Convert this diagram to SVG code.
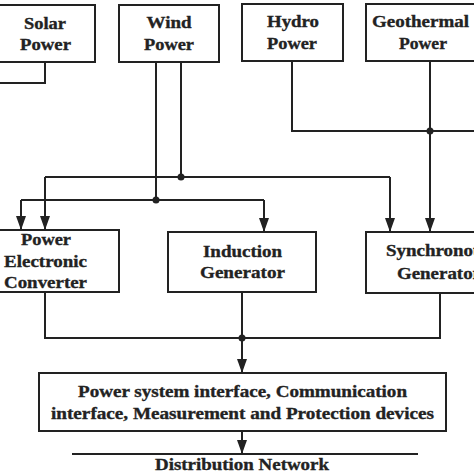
<svg xmlns="http://www.w3.org/2000/svg" width="474" height="474" viewBox="0 0 474 474">
<style>
.box{fill:#fff;stroke:#222;stroke-width:2}
.ln{fill:none;stroke:#222;stroke-width:2}
.t{font-family:"Liberation Serif","Times New Roman",serif;font-weight:bold;font-size:17.5px;fill:#222;stroke:#222;stroke-width:0.35;text-anchor:middle}
.dot{fill:#222}
</style>
<defs>
<marker id="ah" viewBox="0 0 14 10" refX="14" refY="5" markerWidth="14" markerHeight="10" markerUnits="userSpaceOnUse" orient="auto">
<path d="M0,0 L14,5 L0,10 z" fill="#222"/>
</marker>
</defs>
<rect width="474" height="474" fill="#fff"/>
<g id="connectors">
<polyline class="ln" points="45,62 45,83 -5,83"/>
<line class="ln" x1="156" y1="62" x2="156" y2="200"/>
<line class="ln" x1="181" y1="62" x2="181" y2="177"/>
<polyline class="ln" points="45,177 390,177"/>
<polyline class="ln" points="21,200 264,200"/>
<line class="ln" x1="45" y1="177" x2="45" y2="230" marker-end="url(#ah)"/>
<line class="ln" x1="21" y1="200" x2="21" y2="230" marker-end="url(#ah)"/>
<line class="ln" x1="264" y1="200" x2="264" y2="232" marker-end="url(#ah)"/>
<line class="ln" x1="390" y1="177" x2="390" y2="232" marker-end="url(#ah)"/>
<polyline class="ln" points="292,61 292,131 480,131"/>
<line class="ln" x1="430" y1="61" x2="430" y2="232" marker-end="url(#ah)"/>
<polyline class="ln" points="45,292 45,338 440,338 440,293"/>
<line class="ln" x1="242" y1="292" x2="242" y2="373" marker-end="url(#ah)"/>
<line class="ln" x1="242" y1="431" x2="242" y2="454" marker-end="url(#ah)"/>
<line class="ln" x1="72" y1="454" x2="418" y2="454"/>
<circle class="dot" cx="181" cy="177" r="3.5"/>
<circle class="dot" cx="156" cy="200" r="3.5"/>
<circle class="dot" cx="430" cy="131" r="3.5"/>
<circle class="dot" cx="242" cy="338" r="3.5"/>
</g>
<g id="solar">
<rect class="box" x="-10" y="5" width="105" height="57"/>
<text class="t" x="45" y="29" textLength="42" lengthAdjust="spacingAndGlyphs">Solar</text>
<text class="t" x="45.5" y="50" textLength="51" lengthAdjust="spacingAndGlyphs">Power</text>
</g>
<g id="wind">
<rect class="box" x="119" y="5" width="100" height="57"/>
<text class="t" x="169" y="28" textLength="45" lengthAdjust="spacingAndGlyphs">Wind</text>
<text class="t" x="169" y="50" textLength="50" lengthAdjust="spacingAndGlyphs">Power</text>
</g>
<g id="hydro">
<rect class="box" x="242" y="4" width="101" height="57"/>
<text class="t" x="293" y="27" textLength="52" lengthAdjust="spacingAndGlyphs">Hydro</text>
<text class="t" x="292" y="49" textLength="50" lengthAdjust="spacingAndGlyphs">Power</text>
</g>
<g id="geothermal">
<rect class="box" x="366" y="4" width="120" height="57"/>
<text class="t" x="420.5" y="27" textLength="97" lengthAdjust="spacingAndGlyphs">Geothermal</text>
<text class="t" x="423" y="49" textLength="48" lengthAdjust="spacingAndGlyphs">Power</text>
</g>
<g id="converter">
<rect class="box" x="-20" y="230" width="139" height="62"/>
<text class="t" x="46" y="245" textLength="50" lengthAdjust="spacingAndGlyphs">Power</text>
<text class="t" x="45.5" y="267" textLength="83" lengthAdjust="spacingAndGlyphs">Electronic</text>
<text class="t" x="45.5" y="288" textLength="83" lengthAdjust="spacingAndGlyphs">Converter</text>
</g>
<g id="induction">
<rect class="box" x="168" y="232" width="148" height="60"/>
<text class="t" x="242.5" y="257" textLength="79" lengthAdjust="spacingAndGlyphs">Induction</text>
<text class="t" x="242.5" y="278" textLength="85" lengthAdjust="spacingAndGlyphs">Generator</text>
</g>
<g id="synchronous">
<rect class="box" x="366" y="232" width="150" height="61"/>
<text class="t" x="438.5" y="256" textLength="105" lengthAdjust="spacingAndGlyphs">Synchronous</text>
<text class="t" x="439" y="279" textLength="84" lengthAdjust="spacingAndGlyphs">Generator</text>
</g>
<g id="interface">
<rect class="box" x="39" y="373" width="407" height="58"/>
<text class="t" x="242.5" y="397" textLength="329" lengthAdjust="spacingAndGlyphs">Power system interface, Communication</text>
<text class="t" x="242.5" y="419" textLength="383" lengthAdjust="spacingAndGlyphs">interface, Measurement and Protection devices</text>
</g>
<g id="distribution">
<text class="t" x="242" y="470" textLength="174" lengthAdjust="spacingAndGlyphs">Distribution Network</text>
</g>
</svg>
